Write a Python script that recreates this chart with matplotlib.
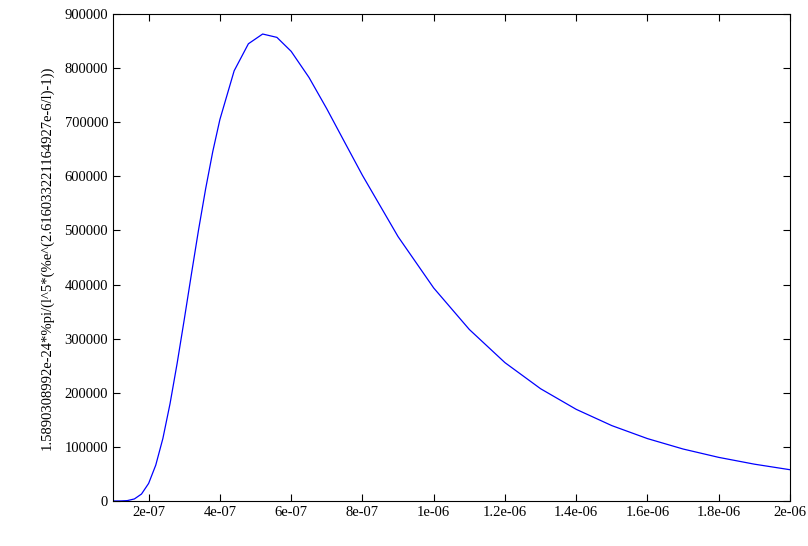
import matplotlib
matplotlib.use("Agg")
import matplotlib.pyplot as plt

# wavelength samples (m) and curve values
wavelength = [1.0e-7, 1.2e-7, 1.4e-7, 1.6e-7, 1.8e-7, 2.0e-7, 2.2e-7, 2.4e-7,
              2.6e-7, 2.8e-7, 3.0e-7, 3.2e-7, 3.4e-7, 3.6e-7, 3.8e-7, 4.0e-7,
              4.4e-7, 4.8e-7, 5.2e-7, 5.6e-7, 6.0e-7, 6.5e-7, 7.0e-7, 7.5e-7,
              8.0e-7, 9.0e-7, 1.0e-6, 1.1e-6, 1.2e-6, 1.3e-6, 1.4e-6, 1.5e-6,
              1.6e-6, 1.7e-6, 1.8e-6, 1.9e-6, 2.0e-6]
value = [2, 68, 713, 3780, 12900, 32500, 66300, 115600,
         179600, 254400, 335500, 419000, 500700, 577000, 645800, 705000,
         795000, 845000, 863000, 856800, 831000, 782800, 724800, 663200,
         601900, 488600, 393700, 317000, 255700, 207500, 169400, 139300,
         115300, 96060, 80620, 68070, 57800]

xticks = [2e-7, 4e-7, 6e-7, 8e-7, 1e-6, 1.2e-6, 1.4e-6, 1.6e-6, 1.8e-6, 2e-6]
xtick_labels = ["2e-07", "4e-07", "6e-07", "8e-07", "1e-06", "1.2e-06",
                "1.4e-06", "1.6e-06", "1.8e-06", "2e-06"]
yticks = list(range(0, 900001, 100000))

plt.rcParams["font.family"] = ["Liberation Serif", "DejaVu Serif"]

fig = plt.figure(figsize=(8.08, 5.46), dpi=100)
ax = fig.add_axes([113 / 808, 45 / 546, 677 / 808, 487 / 546])

ax.plot(wavelength, value, color="#0000ff", linewidth=0.9)
ax.set_xlim(1e-7, 2e-6)
ax.set_ylim(0, 900000)
ax.set_xticks(xticks)
ax.set_xticklabels(xtick_labels)
ax.set_yticks(yticks)
ax.set_yticklabels([str(v) for v in yticks])
ax.tick_params(direction="in", top=True, right=True, labelsize=10.5, length=5)
for s in ax.spines.values():
    s.set_linewidth(0.8)
ax.set_ylabel("1.5890308992e-24*%pi/(l^5*(%e^(2.616033221164927e-6/l)-1))",
              fontsize=10.5, labelpad=8)

fig.savefig("out.png", dpi=100)
